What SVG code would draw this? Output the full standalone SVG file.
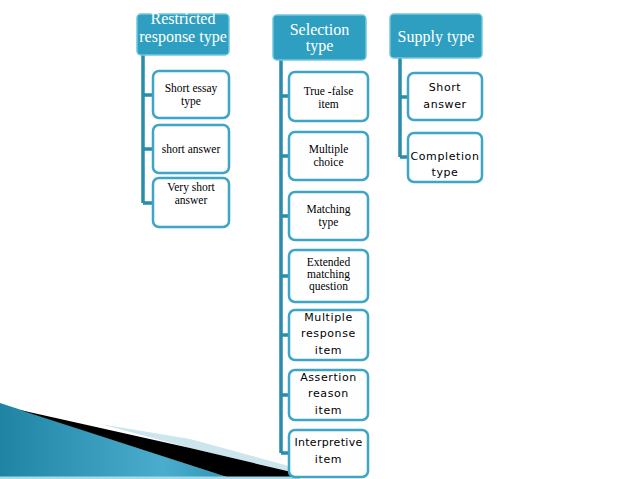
<svg xmlns="http://www.w3.org/2000/svg" width="638" height="479" viewBox="0 0 638 479">
<defs>
<linearGradient id="wedge" x1="0" y1="0" x2="1" y2="0">
<stop offset="0" stop-color="#1f84a3"/>
<stop offset="0.7" stop-color="#4badce"/>
<stop offset="1" stop-color="#2e93b5"/>
</linearGradient>
<style>
.hdr{fill:#2f9fc1;stroke:#72c6de;stroke-width:1.5}
.box{fill:#ffffff;stroke:#3ea5c5;stroke-width:2.5}
.ht{font-family:"Liberation Serif",serif;font-size:16px;fill:#ffffff;text-anchor:middle}
.st{font-family:"Liberation Serif",serif;font-size:11.5px;fill:#000000;text-anchor:middle}
.ss{font-family:"DejaVu Sans",sans-serif;font-size:11px;fill:#000000;text-anchor:middle;letter-spacing:0.6px}
.ln{stroke:#2a8cab;stroke-width:3.5;fill:none}
</style>
</defs>
<rect width="638" height="479" fill="#ffffff"/>
<g id="decoration">
<polygon points="0,403 233,479 0,479" fill="url(#wedge)"/>
<polygon points="100,424 190,439 300,469 300,474 190,448" fill="#cde6ee"/>
<polygon points="20,410 190,448 300,474 300,479 233,479" fill="#000000"/>
<rect x="0" y="476.5" width="300" height="2.5" fill="#a6dbea"/>
</g>
<g id="connectors">
<path class="ln" d="M143,55 V203 M143,95 H153 M143,149 H153 M143,203 H153"/>
<path class="ln" d="M281,60 V453 M281,96 H289 M281,156 H289 M281,216 H289 M281,276 H289 M281,335 H289 M281,395 H289 M281,453 H289"/>
<path class="ln" d="M400,58 V157 M400,97 H408 M400,157 H408"/>
</g>
<g id="restricted">
<rect class="hdr" x="137" y="14" width="92" height="41" rx="4"/>
<text class="ht" x="183" y="24">Restricted</text>
<text class="ht" x="183" y="42">response type</text>
</g>
<g id="short-essay">
<rect class="box" x="153" y="71" width="76" height="47" rx="6"/>
<text class="st" x="191" y="92">Short essay</text>
<text class="st" x="191" y="105">type</text>
</g>
<g id="short-answer-r">
<rect class="box" x="153" y="125" width="76" height="48" rx="6"/>
<text class="st" x="191" y="153">short answer</text>
</g>
<g id="very-short">
<rect class="box" x="153" y="178" width="76" height="49" rx="6"/>
<text class="st" x="191" y="191">Very short</text>
<text class="st" x="191" y="204">answer</text>
</g>
<g id="selection">
<rect class="hdr" x="273" y="15" width="93" height="45" rx="4"/>
<text class="ht" x="319.5" y="35">Selection</text>
<text class="ht" x="319.5" y="51">type</text>
</g>
<g id="true-false">
<rect class="box" x="289" y="72" width="79" height="49" rx="6"/>
<text class="st" x="328.5" y="95">True -false</text>
<text class="st" x="328.5" y="108">item</text>
</g>
<g id="multiple-choice">
<rect class="box" x="289" y="132" width="79" height="48" rx="6"/>
<text class="st" x="328.5" y="153">Multiple</text>
<text class="st" x="328.5" y="166">choice</text>
</g>
<g id="matching">
<rect class="box" x="289" y="192" width="79" height="48" rx="6"/>
<text class="st" x="328.5" y="213">Matching</text>
<text class="st" x="328.5" y="226">type</text>
</g>
<g id="extended">
<rect class="box" x="289" y="250" width="79" height="52" rx="6"/>
<text class="st" x="328.5" y="266">Extended</text>
<text class="st" x="328.5" y="278">matching</text>
<text class="st" x="328.5" y="290">question</text>
</g>
<g id="multiple-response">
<rect class="box" x="289" y="310" width="79" height="50" rx="6"/>
<text class="ss" x="328.5" y="321">Multiple</text>
<text class="ss" x="328.5" y="337">response</text>
<text class="ss" x="328.5" y="354">item</text>
</g>
<g id="assertion">
<rect class="box" x="289" y="370" width="79" height="50" rx="6"/>
<text class="ss" x="328.5" y="381">Assertion</text>
<text class="ss" x="328.5" y="397">reason</text>
<text class="ss" x="328.5" y="414">item</text>
</g>
<g id="interpretive">
<rect class="box" x="289" y="430" width="79" height="47" rx="6"/>
<text class="ss" x="328.5" y="446" style="letter-spacing:0.3px">Interpretive</text>
<text class="ss" x="328.5" y="463">item</text>
</g>
<g id="supply">
<rect class="hdr" x="390" y="14" width="92" height="44" rx="4"/>
<text class="ht" x="436" y="42">Supply type</text>
</g>
<g id="short-answer-s">
<rect class="box" x="408" y="73" width="74" height="47" rx="6"/>
<text class="ss" x="445" y="91">Short</text>
<text class="ss" x="445" y="108">answer</text>
</g>
<g id="completion">
<rect class="box" x="408" y="133" width="74" height="49" rx="6"/>
<text class="ss" x="445" y="160">Completion</text>
<text class="ss" x="445" y="176">type</text>
</g>
</svg>
